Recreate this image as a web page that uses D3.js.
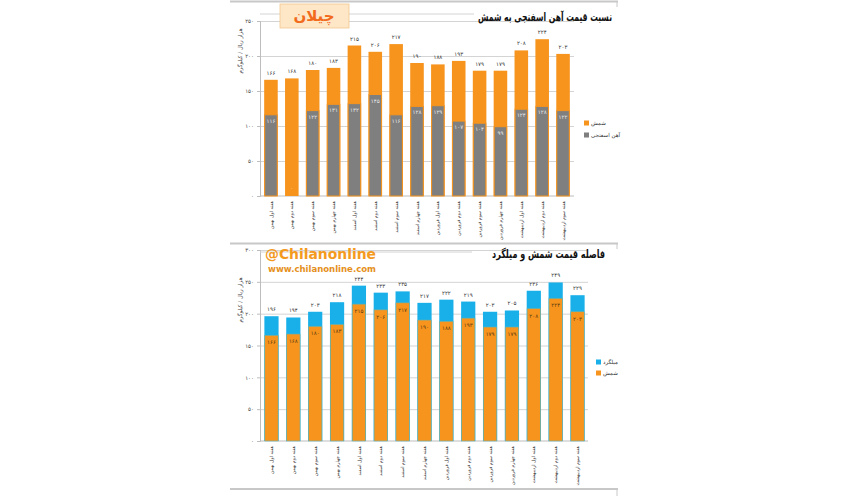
<!DOCTYPE html>
<html>
<head>
<meta charset="utf-8">
<script src="https://cdn.jsdelivr.net/npm/d3@7"></script>
<style>
  body { margin: 0; background: #fff; }
  svg text { font-family: "DejaVu Sans", sans-serif; }
</style>
</head>
<body>
<svg id="canvas" width="850" height="496"></svg>
<script>
// هفته ها
const weeks = [
  "هفته اول بهمن", "هفته دوم بهمن", "هفته سوم بهمن", "هفته چهارم بهمن",
  "هفته اول اسفند", "هفته دوم اسفند", "هفته سوم اسفند", "هفته چهارم اسفند",
  "هفته اول فروردین", "هفته دوم فروردین", "هفته سوم فروردین", "هفته چهارم فروردین",
  "هفته اول اردیبهشت", "هفته دوم اردیبهشت", "هفته سوم اردیبهشت"
]
// شمش
const shemsh = [166, 168, 180, 183, 215, 206, 217, 190, 188, 193, 179, 179, 208, 224, 203]
// آهن اسفنجی
const ahan = [116, 0, 122, 131, 132, 145, 116, 128, 129, 107, 104, 99, 124, 128, 122]
// میلگرد
const milgerd = [196, 194, 203, 218, 244, 233, 235, 217, 222, 219, 203, 205, 236, 249, 229]

const ticks1 = [0, 50, 100, 150, 200, 250]
const ticks2 = [0, 50, 100, 150, 200, 250, 300]

const ORANGE = "#f7941d", GRAY = "#7f7f7f", BLUE = "#19b0ea"

const fa = s => String(s).replace(/\d/g, d => "۰۱۲۳۴۵۶۷۸۹"[d])

const canvas = d3.select("#canvas")

// marcos grises
const frame = canvas.append("g").attr("stroke", "#c8c8c8").attr("fill", "none")
frame.append("line").attr("x1", 230).attr("x2", 618).attr("y1", 1.5).attr("y2", 1.5).attr("stroke-width", 2)
frame.append("line").attr("x1", 617).attr("x2", 617).attr("y1", 1).attr("y2", 7)
frame.append("line").attr("x1", 230).attr("x2", 618).attr("y1", 243.5).attr("y2", 243.5).attr("stroke-width", 2)
frame.append("line").attr("x1", 617).attr("x2", 617).attr("y1", 243).attr("y2", 249)
frame.append("line").attr("x1", 230).attr("x2", 618).attr("y1", 489).attr("y2", 489).attr("stroke-width", 2)
frame.append("line").attr("x1", 617).attr("x2", 617).attr("y1", 489).attr("y2", 496)

function drawChart(cfg) {
  const g = canvas.append("g")
  const x = d3.scaleBand().domain(weeks).range([260, cfg.right])
    .paddingInner(0.35).paddingOuter(0.2)
  const y = d3.scaleLinear().domain([0, cfg.max]).range([cfg.bottom, cfg.top])

  // grid
  g.append("g")
    .attr("transform", "translate(260,0)")
    .call(d3.axisLeft(y).tickValues(cfg.ticks.slice(1)).tickSize(-(cfg.gridEnd - 260)).tickFormat(""))
    .call(a => a.select(".domain").remove())
    .call(a => a.selectAll("line").attr("stroke", "#d4d4d4"))

  // eje y
  g.append("g")
    .attr("transform", "translate(260,0)")
    .call(d3.axisLeft(y).tickValues(cfg.ticks).tickSize(3).tickPadding(3).tickFormat(fa))
    .call(a => a.select(".domain").attr("stroke", "#bdbdbd"))
    .call(a => a.selectAll("line").attr("stroke", "#bdbdbd"))
    .call(a => a.selectAll("text").attr("font-size", 5.5).attr("fill", "#444"))

  // eje x
  g.append("g")
    .attr("transform", `translate(0,${cfg.bottom})`)
    .call(d3.axisBottom(x).tickSize(0).tickPadding(0))
    .call(a => a.select(".domain").attr("stroke", "#bdbdbd").attr("d", `M260,0H${cfg.gridEnd}`))
    .call(a => a.selectAll("text")
      .attr("font-size", 4.6).attr("fill", "#333")
      .attr("text-anchor", "end")
      .attr("transform", "rotate(-90)")
      .attr("x", -5).attr("y", 0).attr("dy", "0.35em"))

  // titulo eje y
  g.append("text")
    .attr("transform", `translate(242,${cfg.yTitleY}) rotate(-90)`)
    .attr("text-anchor", "middle").attr("font-size", 5.5).attr("fill", "#444")
    .text("هزار ریال / کیلوگرم")

  cfg.draw(g, x, y)

  // titulo
  g.append("text")
    .attr("x", cfg.titleX - cfg.titleW).attr("y", cfg.titleY)
    .attr("text-anchor", "start").attr("font-size", 11.5).attr("font-weight", "bold").attr("fill", "#111")
    .attr("textLength", cfg.titleW).attr("lengthAdjust", "spacingAndGlyphs")
    .text(cfg.title)

  // leyenda
  cfg.legend.forEach((l, i) => {
    const ly = cfg.legendY + i * cfg.legendGap
    g.append("rect").attr("x", cfg.legendX).attr("y", ly - 2.5).attr("width", 5).attr("height", 5).attr("fill", l.color)
    g.append("text").attr("x", cfg.legendX + 7).attr("y", ly).attr("dy", "0.35em")
      .attr("text-anchor", "start").attr("font-size", 5.5).attr("fill", "#333").attr("direction", "ltr")
      .text(l.name)
  })
}

// grafica 1
drawChart({
  top: 21, bottom: 196, max: 250, ticks: ticks1, right: 574, gridEnd: 574, yTitleY: 51,
  title: "نسبت قیمت آهن اسفنجی به شمش", titleX: 612, titleW: 134, titleY: 21,
  legendX: 584, legendY: 123, legendGap: 12,
  legend: [{ name: "شمش", color: ORANGE }, { name: "آهن اسفنجی", color: GRAY }],
  draw: (g, x, y) => {
    g.selectAll(".o").data(shemsh).enter().append("rect")
      .attr("x", (d, i) => x(weeks[i])).attr("width", x.bandwidth())
      .attr("y", d => y(d)).attr("height", d => y(0) - y(d))
      .attr("fill", ORANGE)
    g.selectAll(".g").data(ahan).enter().append("rect")
      .attr("x", (d, i) => x(weeks[i]) + 0.5).attr("width", x.bandwidth() - 1)
      .attr("y", d => y(d)).attr("height", d => y(0) - y(d))
      .attr("fill", GRAY).attr("stroke", ORANGE).attr("stroke-width", 1)
    g.selectAll(".tl").data(shemsh).enter().append("text")
      .attr("x", (d, i) => x(weeks[i]) + x.bandwidth() / 2).attr("y", d => y(d) - 5)
      .attr("text-anchor", "middle").attr("font-size", 5.5).attr("fill", "#333")
      .text(fa)
    g.selectAll(".gl").data(ahan).enter().append("text")
      .attr("x", (d, i) => x(weeks[i]) + x.bandwidth() / 2)
      .attr("y", d => d > 0 ? y(d) + 8 : y(0) - 6)
      .attr("text-anchor", "middle").attr("font-size", 5.5)
      .attr("fill", d => d > 0 ? "#e8e8e8" : "#fbd39a")
      .text(fa)
  }
})

// grafica 2
drawChart({
  top: 250, bottom: 441, max: 300, ticks: ticks2, right: 589, gridEnd: 588, yTitleY: 300,
  title: "فاصله  قیمت شمش و میلگرد", titleX: 605, titleW: 113, titleY: 258,
  legendX: 596, legendY: 362, legendGap: 11,
  legend: [{ name: "میلگرد", color: BLUE }, { name: "شمش", color: ORANGE }],
  draw: (g, x, y) => {
    g.selectAll(".b").data(milgerd).enter().append("rect")
      .attr("x", (d, i) => x(weeks[i])).attr("width", x.bandwidth())
      .attr("y", d => y(d)).attr("height", d => y(0) - y(d))
      .attr("fill", BLUE)
    g.selectAll(".o").data(shemsh).enter().append("rect")
      .attr("x", (d, i) => x(weeks[i]) + 0.4).attr("width", x.bandwidth() - 0.8)
      .attr("y", d => y(d)).attr("height", d => y(0) - y(d))
      .attr("fill", ORANGE).attr("stroke", "#5fb3b3").attr("stroke-width", 0.6)
    g.selectAll(".tl").data(milgerd).enter().append("text")
      .attr("x", (d, i) => x(weeks[i]) + x.bandwidth() / 2).attr("y", d => y(d) - 5)
      .attr("text-anchor", "middle").attr("font-size", 5.5).attr("fill", "#333")
      .text(fa)
    g.selectAll(".ol").data(shemsh).enter().append("text")
      .attr("x", (d, i) => x(weeks[i]) + x.bandwidth() / 2).attr("y", d => y(d) + 9)
      .attr("text-anchor", "middle").attr("font-size", 5.5).attr("fill", "#5a3a10")
      .text(fa)
  }
})

// logo y marca
canvas.append("line").attr("x1", 260).attr("x2", 474).attr("y1", 14).attr("y2", 14).attr("stroke", "#d4d4d4")
canvas.append("rect").attr("x", 280).attr("y", 4).attr("width", 69).attr("height", 24)
  .attr("fill", "#fde7c6").attr("stroke", "#f3c98e").attr("stroke-width", 0.8)
canvas.append("text").attr("x", 314).attr("y", 21).attr("text-anchor", "middle")
  .attr("font-size", 15).attr("font-weight", "bold").attr("fill", "#f26b1d").text("چیلان")

canvas.append("line").attr("x1", 260).attr("x2", 472).attr("y1", 252).attr("y2", 252).attr("stroke", "#d4d4d4")
canvas.append("text").attr("x", 265).attr("y", 259)
  .attr("font-size", 14).attr("font-weight", "bold").attr("fill", "#f39a1f")
  .attr("textLength", 111).attr("lengthAdjust", "spacingAndGlyphs").text("@Chilanonline")
canvas.append("text").attr("x", 268).attr("y", 272)
  .attr("font-size", 9).attr("font-weight", "bold").attr("fill", "#e5901c")
  .attr("textLength", 108).attr("lengthAdjust", "spacingAndGlyphs").text("www.chilanonline.com")
</script>
</body>
</html>
